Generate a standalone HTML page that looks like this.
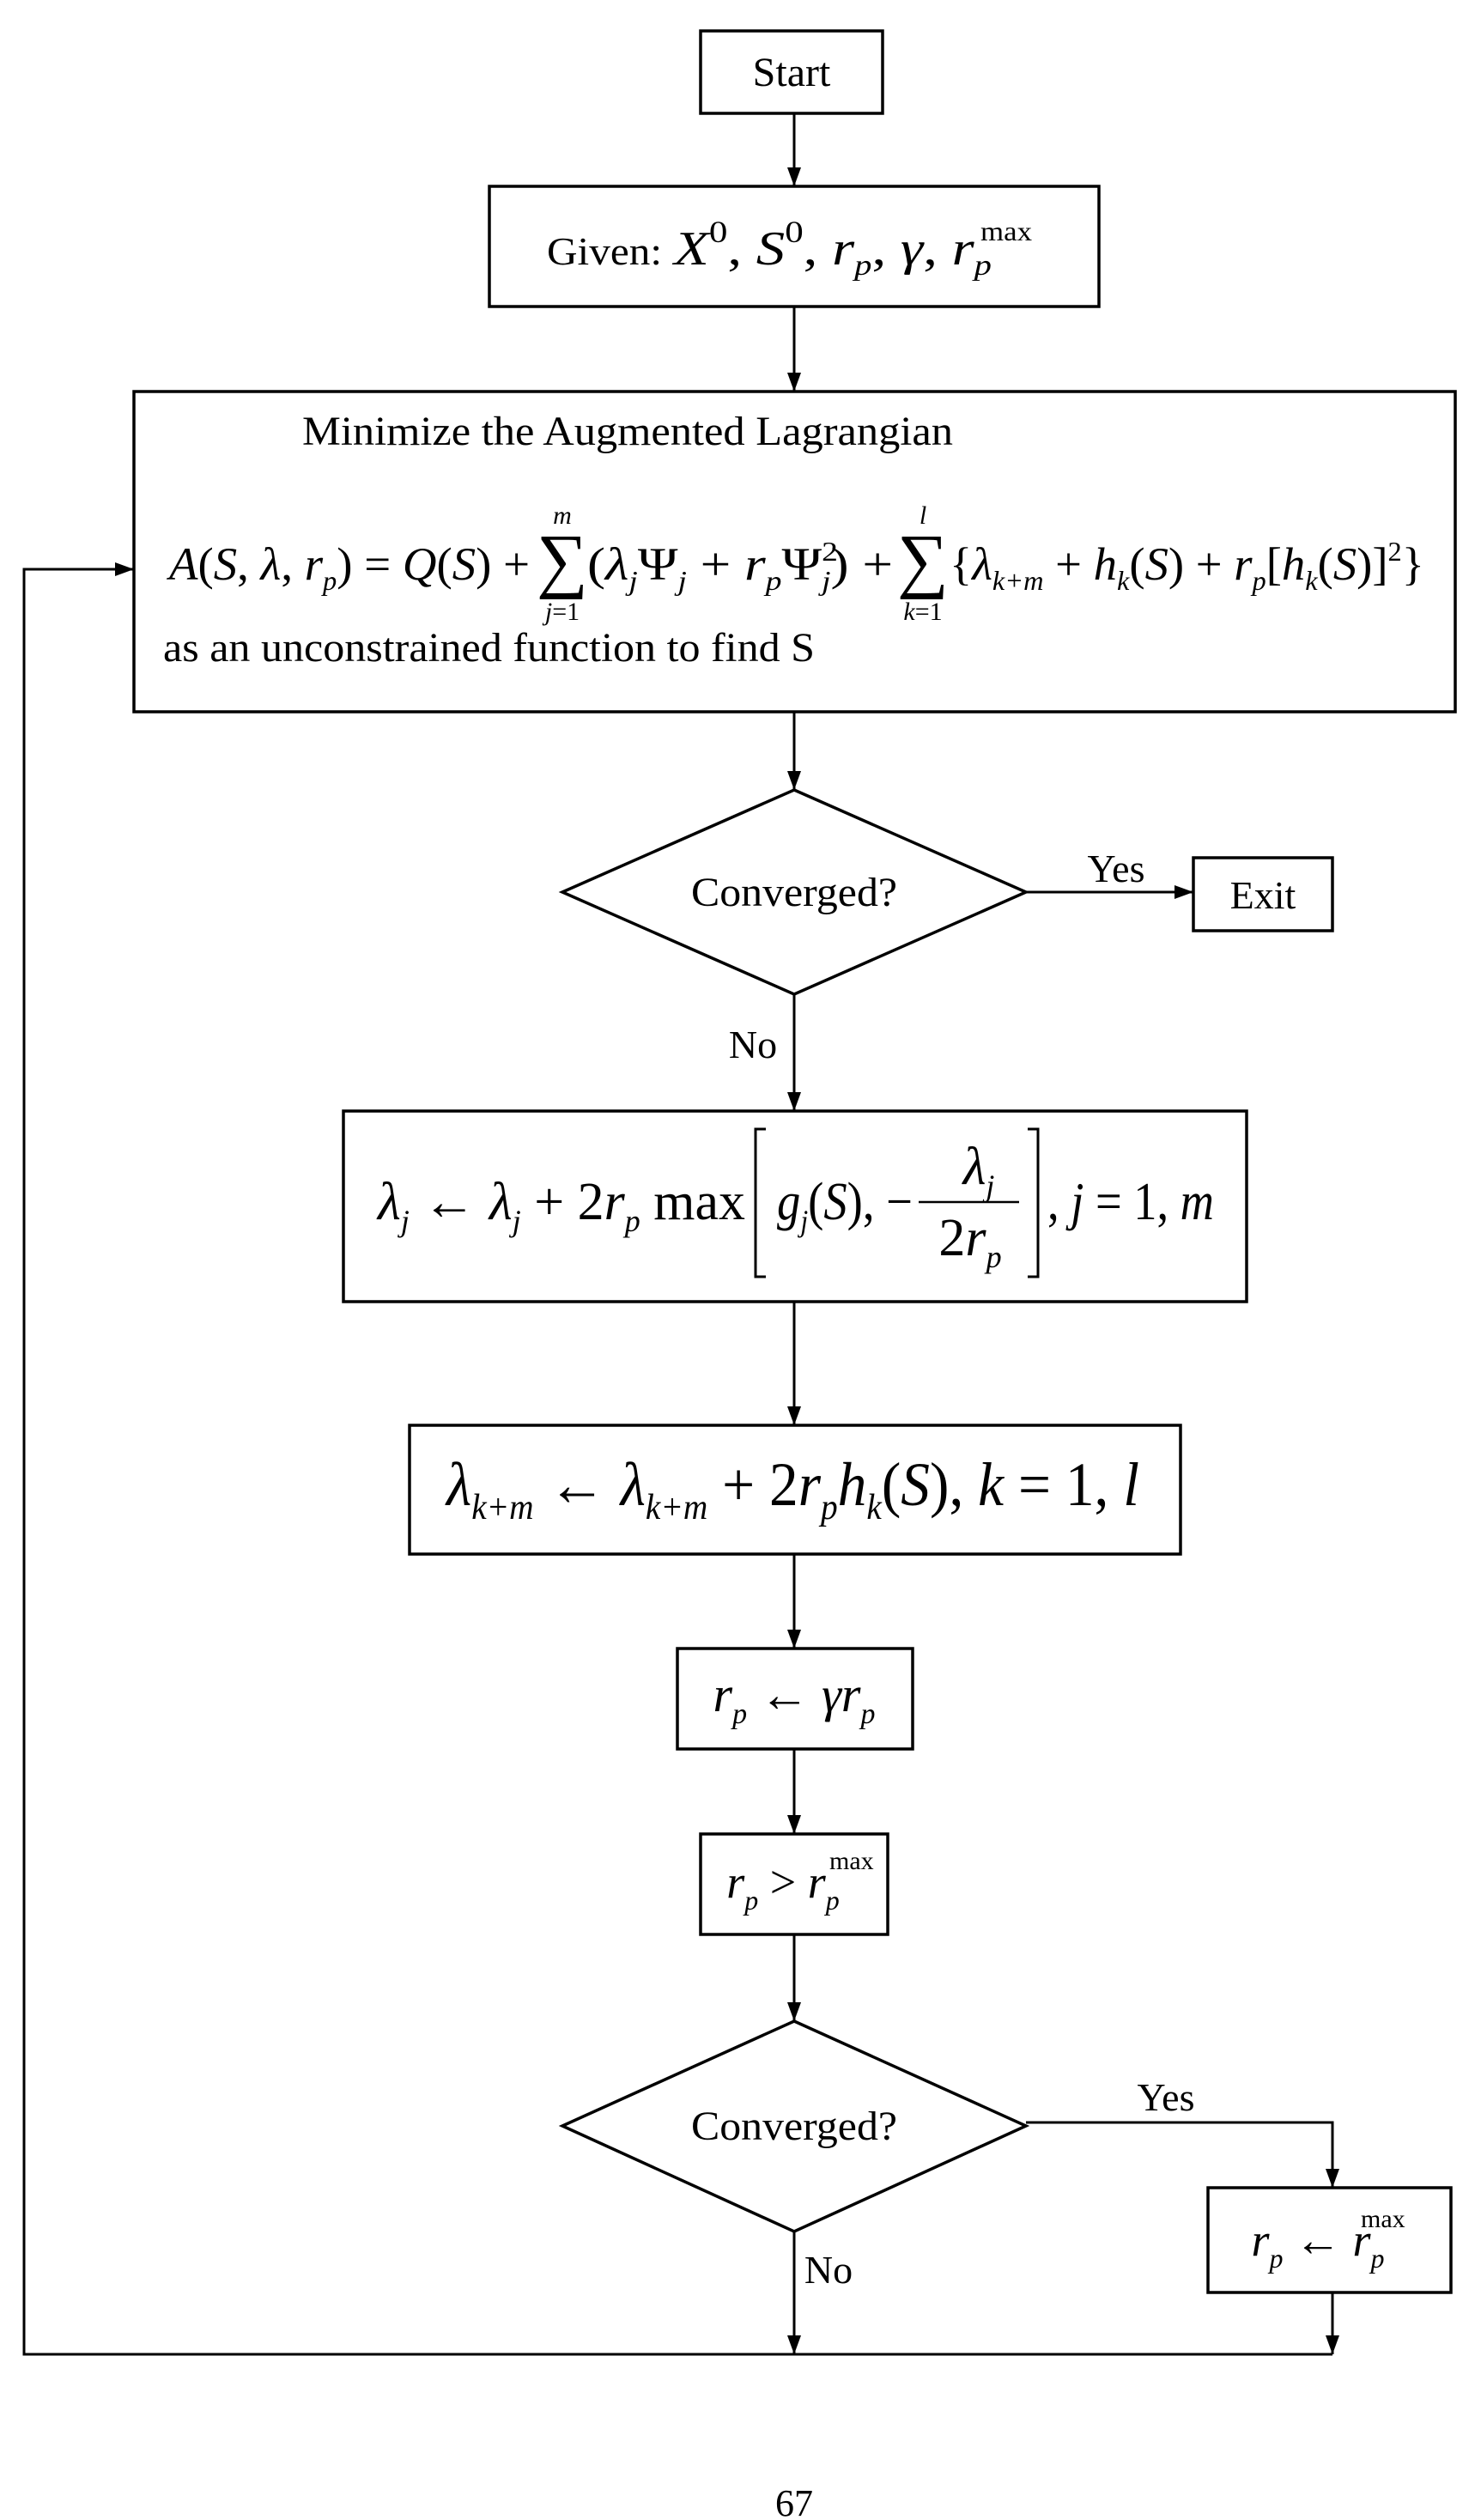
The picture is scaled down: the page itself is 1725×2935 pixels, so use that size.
<!DOCTYPE html>
<html><head><meta charset="utf-8"><style>
html,body{margin:0;padding:0;background:#fff;}
svg{display:block;}
text{font-family:"Liberation Serif",serif;fill:#000;}
.i{font-style:italic;}
</style></head><body>
<svg width="1725" height="2935" viewBox="0 0 1725 2935" xmlns="http://www.w3.org/2000/svg">
<defs>
<marker id="a" markerWidth="22" markerHeight="16" refX="22" refY="8" orient="auto" markerUnits="userSpaceOnUse">
<path d="M0,0 L22,8 L0,16 Z" fill="#000"/></marker>
</defs>
<g stroke="#000" stroke-width="3.5" fill="none">
<rect x="816" y="36" width="212" height="96"/>
<rect x="570" y="217" width="710" height="140"/>
<rect x="156" y="456" width="1539" height="373"/>
<polygon points="925,920 1195,1039 925,1158 655,1039"/>
<rect x="1390" y="999" width="162" height="85"/>
<rect x="400" y="1294" width="1052" height="222"/>
<rect x="477" y="1660" width="898" height="150"/>
<rect x="789" y="1920" width="274" height="117"/>
<rect x="816" y="2136" width="218" height="117"/>
<polygon points="925,2354 1195,2476 925,2599 655,2476"/>
<rect x="1407" y="2548" width="283" height="122"/>
</g>
<g stroke="#000" stroke-width="3" fill="none" marker-end="url(#a)">
<line x1="925" y1="132" x2="925" y2="217"/>
<line x1="925" y1="357" x2="925" y2="456"/>
<line x1="925" y1="829" x2="925" y2="920"/>
<line x1="1195" y1="1039" x2="1390" y2="1039"/>
<line x1="925" y1="1158" x2="925" y2="1294"/>
<line x1="925" y1="1516" x2="925" y2="1660"/>
<line x1="925" y1="1810" x2="925" y2="1920"/>
<line x1="925" y1="2037" x2="925" y2="2136"/>
<line x1="925" y1="2253" x2="925" y2="2354"/>
<polyline points="1195,2472 1552,2472 1552,2548"/>
<line x1="925" y1="2599" x2="925" y2="2742"/>
<line x1="1552" y1="2670" x2="1552" y2="2742"/>
<polyline points="1552,2742 28,2742 28,663 156,663"/>
</g>
<text x="922" y="100" font-size="48" text-anchor="middle">Start</text>

<text x="637" y="308" font-size="46" textLength="134" lengthAdjust="spacingAndGlyphs">Given:</text>
<text x="785" y="308" font-size="56" class="i" textLength="370" lengthAdjust="spacingAndGlyphs">X<tspan font-style="normal" font-size="36" dy="-26">0</tspan><tspan dy="26" font-style="normal">, </tspan>S<tspan font-style="normal" font-size="36" dy="-26">0</tspan><tspan dy="26" font-style="normal">, </tspan>r<tspan font-size="34" dy="12">p</tspan><tspan dy="-12" font-style="normal">, </tspan>γ<tspan font-style="normal">, </tspan>r<tspan font-size="34" dy="12">p</tspan></text>
<text x="1142" y="280" font-size="32" textLength="60" lengthAdjust="spacingAndGlyphs">max</text>

<text x="352" y="518" font-size="48" textLength="758" lengthAdjust="spacingAndGlyphs">Minimize the Augmented Lagrangian</text>

<text x="197" y="675" font-size="54" class="i" textLength="420" lengthAdjust="spacingAndGlyphs">A<tspan font-style="normal">(</tspan>S<tspan font-style="normal">, </tspan>λ<tspan font-style="normal">, </tspan>r<tspan font-size="32" dy="12">p</tspan><tspan font-style="normal" dy="-12">) = </tspan>Q<tspan font-style="normal">(</tspan>S<tspan font-style="normal">) +</tspan></text>
<text x="655" y="680" font-size="84" text-anchor="middle">∑</text>
<text x="655" y="610" font-size="30" class="i" text-anchor="middle">m</text>
<text x="655" y="722" font-size="30" class="i" text-anchor="middle">j<tspan font-style="normal">=1</tspan></text>
<text x="684" y="675" font-size="54" class="i" textLength="356" lengthAdjust="spacingAndGlyphs"><tspan font-style="normal">(</tspan>λ<tspan font-size="32" dy="12">j</tspan><tspan font-style="normal" dy="-12">Ψ</tspan><tspan font-size="32" dy="12">j</tspan><tspan font-style="normal" dy="-12"> + </tspan>r<tspan font-size="32" dy="12">p</tspan><tspan font-style="normal" dy="-12">Ψ</tspan><tspan font-style="normal" font-size="32" dy="-22">2</tspan><tspan font-size="32" dx="-16" dy="34">j</tspan><tspan font-style="normal" dy="-12">) +</tspan></text>
<text x="1075" y="680" font-size="84" text-anchor="middle">∑</text>
<text x="1075" y="610" font-size="30" class="i" text-anchor="middle">l</text>
<text x="1075" y="722" font-size="30" class="i" text-anchor="middle">k<tspan font-style="normal">=1</tspan></text>
<text x="1106" y="675" font-size="54" class="i" textLength="553" lengthAdjust="spacingAndGlyphs"><tspan font-style="normal">{</tspan>λ<tspan font-size="32" dy="12">k+m</tspan><tspan font-style="normal" dy="-12"> + </tspan>h<tspan font-size="32" dy="12">k</tspan><tspan font-style="normal" dy="-12">(</tspan>S<tspan font-style="normal">) + </tspan>r<tspan font-size="32" dy="12">p</tspan><tspan font-style="normal" dy="-12">[</tspan>h<tspan font-size="32" dy="12">k</tspan><tspan font-style="normal" dy="-12">(</tspan>S<tspan font-style="normal">)]</tspan><tspan font-style="normal" font-size="32" dy="-22">2</tspan><tspan font-style="normal" dy="22">}</tspan></text>

<text x="190" y="770" font-size="48" textLength="759" lengthAdjust="spacingAndGlyphs">as an unconstrained function to find S</text>

<text x="925" y="1055" font-size="48" text-anchor="middle" textLength="240" lengthAdjust="spacingAndGlyphs">Converged?</text>
<text x="1300" y="1027" font-size="46" text-anchor="middle">Yes</text>
<text x="1471" y="1058" font-size="46" text-anchor="middle">Exit</text>
<text x="877" y="1232" font-size="46" text-anchor="middle">No</text>

<text x="440" y="1420" font-size="62" class="i" textLength="428" lengthAdjust="spacingAndGlyphs">λ<tspan font-size="36" dy="14">j</tspan><tspan font-style="normal" dy="-14"> ← </tspan>λ<tspan font-size="36" dy="14">j</tspan><tspan font-style="normal" dy="-14"> + 2</tspan>r<tspan font-size="36" dy="14">p</tspan><tspan font-style="normal" dy="-14"> max</tspan></text>
<path d="M892,1315 L880,1315 L880,1487 L892,1487 M1197,1315 L1209,1315 L1209,1487 L1197,1487" stroke="#000" stroke-width="3" fill="none"/>
<text x="905" y="1420" font-size="62" class="i" textLength="158" lengthAdjust="spacingAndGlyphs">g<tspan font-size="36" dy="14">j</tspan><tspan font-style="normal" dy="-14">(</tspan>S<tspan font-style="normal">), −</tspan></text>
<text x="1140" y="1379" font-size="62" class="i" text-anchor="middle">λ<tspan font-size="36" dy="14">j</tspan></text>
<line x1="1070" y1="1400" x2="1187" y2="1400" stroke="#000" stroke-width="2.5"/>
<text x="1130" y="1462" font-size="62" class="i" text-anchor="middle"><tspan font-style="normal">2</tspan>r<tspan font-size="36" dy="14">p</tspan></text>
<text x="1220" y="1420" font-size="62" class="i" textLength="194" lengthAdjust="spacingAndGlyphs"><tspan font-style="normal">, </tspan>j<tspan font-style="normal"> = 1, </tspan>m</text>

<text x="520" y="1753" font-size="72" class="i" textLength="807" lengthAdjust="spacingAndGlyphs">λ<tspan font-size="42" dy="16">k+m</tspan><tspan font-style="normal" dy="-16"> ← </tspan>λ<tspan font-size="42" dy="16">k+m</tspan><tspan font-style="normal" dy="-16"> + 2</tspan>r<tspan font-size="42" dy="16">p</tspan><tspan dy="-16">h</tspan><tspan font-size="42" dy="16">k</tspan><tspan font-style="normal" dy="-16">(</tspan>S<tspan font-style="normal">), </tspan>k<tspan font-style="normal"> = 1, </tspan>l</text>

<text x="925" y="1993" font-size="58" class="i" text-anchor="middle">r<tspan font-size="34" dy="14">p</tspan><tspan font-style="normal" dy="-14"> ← </tspan>γr<tspan font-size="34" dy="14">p</tspan></text>
<text x="912" y="2210" font-size="54" class="i" text-anchor="middle">r<tspan font-size="32" dy="14">p</tspan><tspan font-style="normal" dy="-14"> &gt; </tspan>r<tspan font-size="32" dy="14">p</tspan></text>
<text x="966" y="2177" font-size="30">max</text>
<text x="925" y="2492" font-size="48" text-anchor="middle" textLength="240" lengthAdjust="spacingAndGlyphs">Converged?</text>
<text x="1358" y="2458" font-size="46" text-anchor="middle">Yes</text>
<text x="965" y="2659" font-size="46" text-anchor="middle">No</text>
<text x="1535" y="2627" font-size="54" class="i" text-anchor="middle">r<tspan font-size="32" dy="14">p</tspan><tspan font-style="normal" dy="-14"> ← </tspan>r<tspan font-size="32" dy="14">p</tspan></text>
<text x="1585" y="2594" font-size="30">max</text>
<text x="925" y="2930" font-size="44" text-anchor="middle">67</text>
</svg>
</body></html>
